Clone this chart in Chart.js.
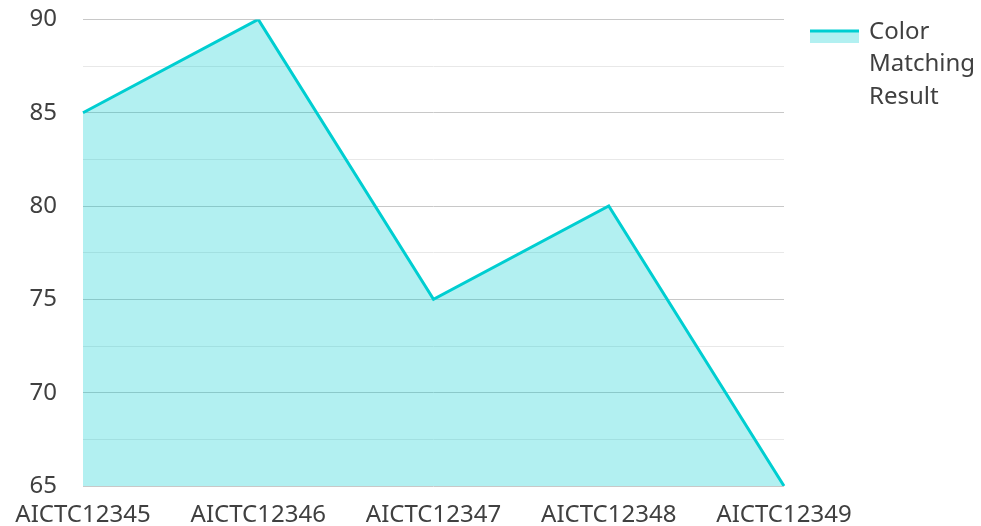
<!DOCTYPE html>
<html>
<head>
<meta charset="utf-8">
<script src="https://cdn.jsdelivr.net/npm/chart.js@4"></script>
<style>
  html, body { margin: 0; padding: 0; background: #fff; }
  #wrap { width: 981px; height: 526px; position: relative; }
</style>
</head>
<body>
<div id="wrap"><canvas id="chart"></canvas></div>
<script>
const categories = ['AICTC12345', 'AICTC12346', 'AICTC12347', 'AICTC12348', 'AICTC12349'];
const seriesName = 'Color Matching Result';
const seriesValues = [85, 90, 75, 80, 65];
const yTicks = [65, 70, 75, 80, 85, 90];

const lineColor = '#00CED1';
const fillColor = 'rgba(0, 206, 209, 0.3)';
const textColor = '#404040';

// legend drawn by hand: line on top of a light box, label wrapped per word
const sideLegend = {
  id: 'sideLegend',
  afterDraw(chart) {
    const ctx = chart.ctx;
    const ds = chart.data.datasets[0];
    const x = 810, y = 31;
    ctx.save();
    ctx.fillStyle = ds.backgroundColor;
    ctx.fillRect(x, y, 49, 12);
    ctx.strokeStyle = ds.borderColor;
    ctx.lineWidth = 3;
    ctx.beginPath();
    ctx.moveTo(x, y);
    ctx.lineTo(x + 49, y);
    ctx.stroke();
    ctx.fillStyle = textColor;
    ctx.font = '24px "Noto Sans"';
    ctx.textBaseline = 'middle';
    ds.label.split(' ').forEach((w, i) => {
      ctx.fillText(w, 869, 32 + i * 32.5);
    });
    ctx.restore();
  }
};

new Chart(document.getElementById('chart'), {
  type: 'line',
  data: {
    labels: categories,
    datasets: [{
      label: seriesName,
      data: seriesValues,
      borderColor: lineColor,
      backgroundColor: fillColor,
      borderWidth: 3,
      fill: 'origin',
      pointRadius: 0,
      tension: 0
    }]
  },
  options: {
    responsive: true,
    maintainAspectRatio: false,
    animation: false,
    layout: { padding: { top: 0, right: 197, bottom: 0, left: 0 } },
    plugins: {
      legend: { display: false },
      tooltip: { enabled: false }
    },
    scales: {
      x: {
        offset: false,
        grid: { display: false, drawTicks: false },
        border: { display: false },
        ticks: {
          color: textColor,
          font: { family: 'Noto Sans', size: 24 },
          padding: 15,
          maxRotation: 0,
          autoSkip: false
        },
        afterFit: s => { s.height = 40; }
      },
      y: {
        min: yTicks[0],
        max: yTicks[yTicks.length - 1],
        border: { display: false },
        grid: {
          drawTicks: true,
          tickLength: 21,
          tickColor: 'rgba(0,0,0,0)',
          lineWidth: 1,
          color: c => (yTicks.includes(c.tick.value) ? '#c8c8c8' : '#e8e8e8')
        },
        ticks: {
          stepSize: 2.5,
          color: textColor,
          font: { family: 'Noto Sans', size: 24 },
          padding: 5,
          callback: v => (yTicks.includes(v) ? v : '')
        },
        afterFit: s => { s.width = 83; }
      }
    }
  },
  plugins: [sideLegend]
});
</script>
</body>
</html>
